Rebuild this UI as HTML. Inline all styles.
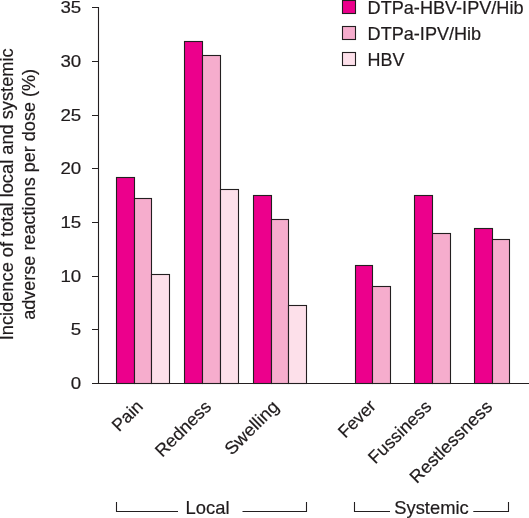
<!DOCTYPE html>
<html><head><meta charset="utf-8">
<style>
html,body{margin:0;padding:0;background:#fff;}
body{width:529px;height:518px;overflow:hidden;}
svg{display:block;font-family:"Liberation Sans",sans-serif;font-size:17.7px;fill:#1f1b1c;}
.b rect{stroke:#231f20;stroke-width:1.1;}
.a{fill:#ec008c}.m{fill:#f6adcd}.l{fill:#fde0ea}
text{stroke:#231f20;stroke-width:0.2px}
.ln{stroke:#231f20;stroke-width:1.1;fill:none}
</style></head><body>
<svg width="529" height="518" viewBox="0 0 529 518">
<rect width="529" height="518" fill="#fff"/>
<g class="b">
<rect class="a" x="116.5" y="177.5" width="18" height="206"/>
<rect class="m" x="134.5" y="198.5" width="17" height="185"/>
<rect class="l" x="151.5" y="274.5" width="18" height="109"/>
<rect class="a" x="184.5" y="41.5" width="18" height="342"/>
<rect class="m" x="202.5" y="55.5" width="18" height="328"/>
<rect class="l" x="220.5" y="189.5" width="18" height="194"/>
<rect class="a" x="253.5" y="195.5" width="18" height="188"/>
<rect class="m" x="271.5" y="219.5" width="17" height="164"/>
<rect class="l" x="288.5" y="305.5" width="18" height="78"/>
<rect class="a" x="355.5" y="265.5" width="17" height="118"/>
<rect class="m" x="372.5" y="286.5" width="18" height="97"/>
<rect class="a" x="414.5" y="195.5" width="18" height="188"/>
<rect class="m" x="432.5" y="233.5" width="18" height="150"/>
<rect class="a" x="474.5" y="228.5" width="18" height="155"/>
<rect class="m" x="492.5" y="239.5" width="17" height="144"/>
</g>
<path class="ln" d="M92 7.5H98.5V383.5M92 61.5H98.5M92 115.5H98.5M92 168.5H98.5M92 222.5H98.5M92 276.5H98.5M92 329.5H98.5M92 383.5H529"/>
<g text-anchor="end" font-size="17">
<text x="81.2" y="13.4" textLength="20.8" lengthAdjust="spacingAndGlyphs">35</text>
<text x="81.2" y="67.4" textLength="20.8" lengthAdjust="spacingAndGlyphs">30</text>
<text x="81.2" y="121.4" textLength="20.8" lengthAdjust="spacingAndGlyphs">25</text>
<text x="81.2" y="174.4" textLength="20.8" lengthAdjust="spacingAndGlyphs">20</text>
<text x="81.2" y="228.4" textLength="20.8" lengthAdjust="spacingAndGlyphs">15</text>
<text x="81.2" y="282.4" textLength="20.8" lengthAdjust="spacingAndGlyphs">10</text>
<text x="81.2" y="335.4" textLength="10.4" lengthAdjust="spacingAndGlyphs">5</text>
<text x="81.2" y="389.4" textLength="10.4" lengthAdjust="spacingAndGlyphs">0</text>
</g>
<g text-anchor="middle">
<text transform="translate(13.2 194.3) rotate(-90)" textLength="292" lengthAdjust="spacingAndGlyphs">Incidence of total local and systemic</text>
<text transform="translate(35.1 194.4) rotate(-90)" textLength="250.9" lengthAdjust="spacingAndGlyphs">adverse reactions per dose (%)</text>
</g>
<g text-anchor="end">
<text transform="translate(144 407.5) rotate(-45)" textLength="35.4" lengthAdjust="spacingAndGlyphs">Pain</text>
<text transform="translate(212.3 407.8) rotate(-45)" textLength="70.9" lengthAdjust="spacingAndGlyphs">Redness</text>
<text transform="translate(280 407.8) rotate(-45)" textLength="68.3" lengthAdjust="spacingAndGlyphs">Swelling</text>
<text transform="translate(377 407.2) rotate(-45)" textLength="44.9" lengthAdjust="spacingAndGlyphs">Fever</text>
<text transform="translate(432.5 407.7) rotate(-45)" textLength="80.8" lengthAdjust="spacingAndGlyphs">Fussiness</text>
<text transform="translate(493.3 407.8) rotate(-45)" textLength="108.1" lengthAdjust="spacingAndGlyphs">Restlessness</text>
</g>
<path class="ln" d="M116.5 502V511.5H178M242.5 511.5H306.5V502M354.5 502V511.5H390M473.3 511.5H508.5V502"/>
<text x="185.6" y="513.7" textLength="43.9" lengthAdjust="spacingAndGlyphs">Local</text>
<text x="394.3" y="513.7" textLength="74.4" lengthAdjust="spacingAndGlyphs">Systemic</text>
<g class="b">
<rect class="a" x="342.5" y="0.5" width="13" height="13"/>
<rect class="m" x="342.5" y="26.5" width="13" height="13"/>
<rect class="l" x="342.5" y="52.5" width="13" height="13"/>
</g>
<text x="367.6" y="13.6" textLength="155.9" lengthAdjust="spacingAndGlyphs">DTPa-HBV-IPV/Hib</text>
<text x="367.6" y="39.7" textLength="113.6" lengthAdjust="spacingAndGlyphs">DTPa-IPV/Hib</text>
<text x="367.6" y="65.8" textLength="36.9" lengthAdjust="spacingAndGlyphs">HBV</text>
</svg>
</body></html>
